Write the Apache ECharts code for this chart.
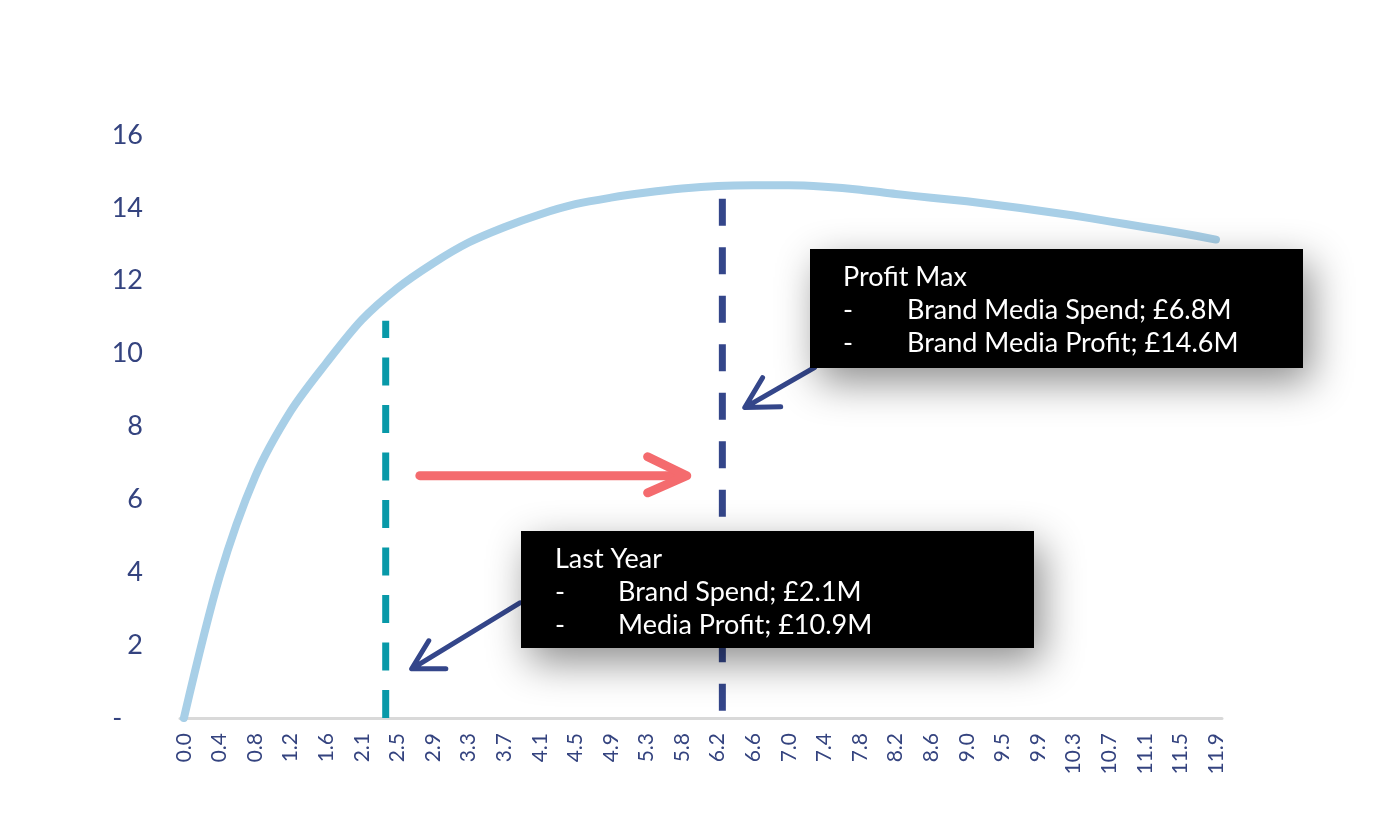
<!DOCTYPE html>
<html>
<head>
<meta charset="utf-8">
<script src="https://cdn.jsdelivr.net/npm/echarts@6/dist/echarts.min.js"></script>
<style>
    html, body { margin: 0; padding: 0; background: #ffffff; }
    #chart { width: 1374px; height: 823px; }
</style>
</head>
<body>
<div id="chart"></div>
<script>
// Brand media spend (£M) tick labels, one per curve point
const spendLabels = [
    "0.0", "0.4", "0.8", "1.2", "1.6", "2.1", "2.5", "2.9", "3.3", "3.7",
    "4.1", "4.5", "4.9", "5.3", "5.8", "6.2", "6.6", "7.0", "7.4", "7.8",
    "8.2", "8.6", "9.0", "9.5", "9.9", "10.3", "10.7", "11.1", "11.5", "11.9",
];

// Brand media profit (£M) at each spend point
const profitValues = [
    0, 3.87, 6.62, 8.42, 9.74, 10.93, 11.8, 12.48, 13.05, 13.47,
    13.82, 14.1, 14.28, 14.42, 14.53, 14.6, 14.62, 14.62, 14.58, 14.5,
    14.38, 14.28, 14.18, 14.06, 13.93, 13.79, 13.63, 13.47, 13.31, 13.13,
];

// y axis ticks
const profitTicks = [0, 2, 4, 6, 8, 10, 12, 14, 16];

// reference lines (x in spend-point units, y in £M)
const lastYearLine = [[5.67, 0], [5.67, 10.9]];
const profitMaxLine = [[15.13, 14.25], [15.13, 0.2]];

// annotation arrows, in the same data units
const shiftArrowShaft = [[6.63, 6.65], [14.02, 6.65]];
const shiftArrowHead = [[13.03, 7.17], [14.13, 6.65], [13.03, 6.18]];
const profitMaxArrow = [[16.26, 9.34], [15.76, 8.52], [16.77, 8.54], [15.76, 8.52], [17.72, 9.62]];
const lastYearArrow = [[6.88, 2.12], [6.40, 1.35], [7.36, 1.35], [6.40, 1.35], [9.44, 3.16]];

const navy = "#34468a";
const labelNavy = "#34437f";

const chart = echarts.init(document.getElementById("chart"));

const lineSeries = (data, color, width, dash, extra) => Object.assign({
    type: "line",
    data: data,
    showSymbol: false,
    silent: true,
    animation: false,
    lineStyle: { color: color, width: width, type: dash, cap: "round", join: "round" },
}, extra || {});

// text block inside a black callout box
const calloutBox = (x, y, w, h, title, items, textX, itemX, lineH) => {
    const els = [{
        type: "rect",
        z: 100,
        shape: { x: x, y: y, width: w, height: h },
        style: {
            fill: "#000000",
            shadowBlur: 40,
            shadowColor: "rgba(0,0,0,0.45)",
            shadowOffsetX: 8,
            shadowOffsetY: 14,
        },
    }, {
        type: "text",
        z: 101,
        x: textX,
        y: y + 28,
        style: { text: title, fill: "#ffffff", font: "27px Lato", verticalAlign: "middle" },
    }];
    items.forEach((t, i) => {
        const ty = y + 28 + lineH * (i + 1);
        els.push({
            type: "text", z: 101, x: textX, y: ty,
            style: { text: "-", fill: "#ffffff", font: "27px Lato", verticalAlign: "middle" },
        });
        els.push({
            type: "text", z: 101, x: itemX, y: ty,
            style: { text: t, fill: "#ffffff", font: "27px Lato", verticalAlign: "middle" },
        });
    });
    return els;
};

const option = {
    backgroundColor: "#ffffff",
    animation: false,
    grid: { left: 180, right: 152, top: 135, bottom: 105 },
    xAxis: {
        type: "value",
        min: -0.11,
        max: 29.17,
        axisLine: { show: true, lineStyle: { color: "#d9d9d9", width: 3 } },
        axisTick: { show: false },
        splitLine: { show: false },
        axisLabel: {
            customValues: spendLabels.map((_, i) => i),
            formatter: (v) => spendLabels[Math.round(v)],
            rotate: 90,
            margin: 15,
            color: labelNavy,
            fontFamily: "Lato",
            fontSize: 21,
        },
    },
    yAxis: {
        type: "value",
        min: profitTicks[0],
        max: profitTicks[profitTicks.length - 1],
        interval: 2,
        axisLine: { show: false },
        axisTick: { show: false },
        splitLine: { show: false },
        axisLabel: {
            formatter: (v) => (v === 0 ? "-   " : String(v)),
            margin: 37,
            color: labelNavy,
            fontFamily: "Lato",
            fontSize: 27,
        },
    },
    series: [
        lineSeries(profitValues.map((v, i) => [i, v]), "#a8cfe7", 8, "solid", { smooth: 0.3, z: 3 }),
        lineSeries(lastYearLine, "#0899a8", 7, [28, 19.5], { z: 2, lineStyle: { color: "#0899a8", width: 7, type: [28, 19.5], cap: "butt" } }),
        lineSeries(profitMaxLine, navy, 7, [27, 21.5], { z: 2, lineStyle: { color: navy, width: 7, type: [27, 21.5], cap: "butt" } }),
        lineSeries(shiftArrowShaft, "#f46b6e", 9, "solid"),
        lineSeries(shiftArrowHead, "#f46b6e", 9, "solid"),
        lineSeries(profitMaxArrow, navy, 5, "solid"),
        lineSeries(lastYearArrow, navy, 5, "solid"),
    ],
    graphic: [
        ...calloutBox(810, 249, 493, 119, "Profit Max",
            ["Brand Media Spend; £6.8M", "Brand Media Profit; £14.6M"], 843, 907, 33),
        ...calloutBox(521, 531, 513, 117, "Last Year",
            ["Brand Spend; £2.1M", "Media Profit; £10.9M"], 555, 618, 33),
    ],
};

chart.setOption(option);
</script>
</body>
</html>
